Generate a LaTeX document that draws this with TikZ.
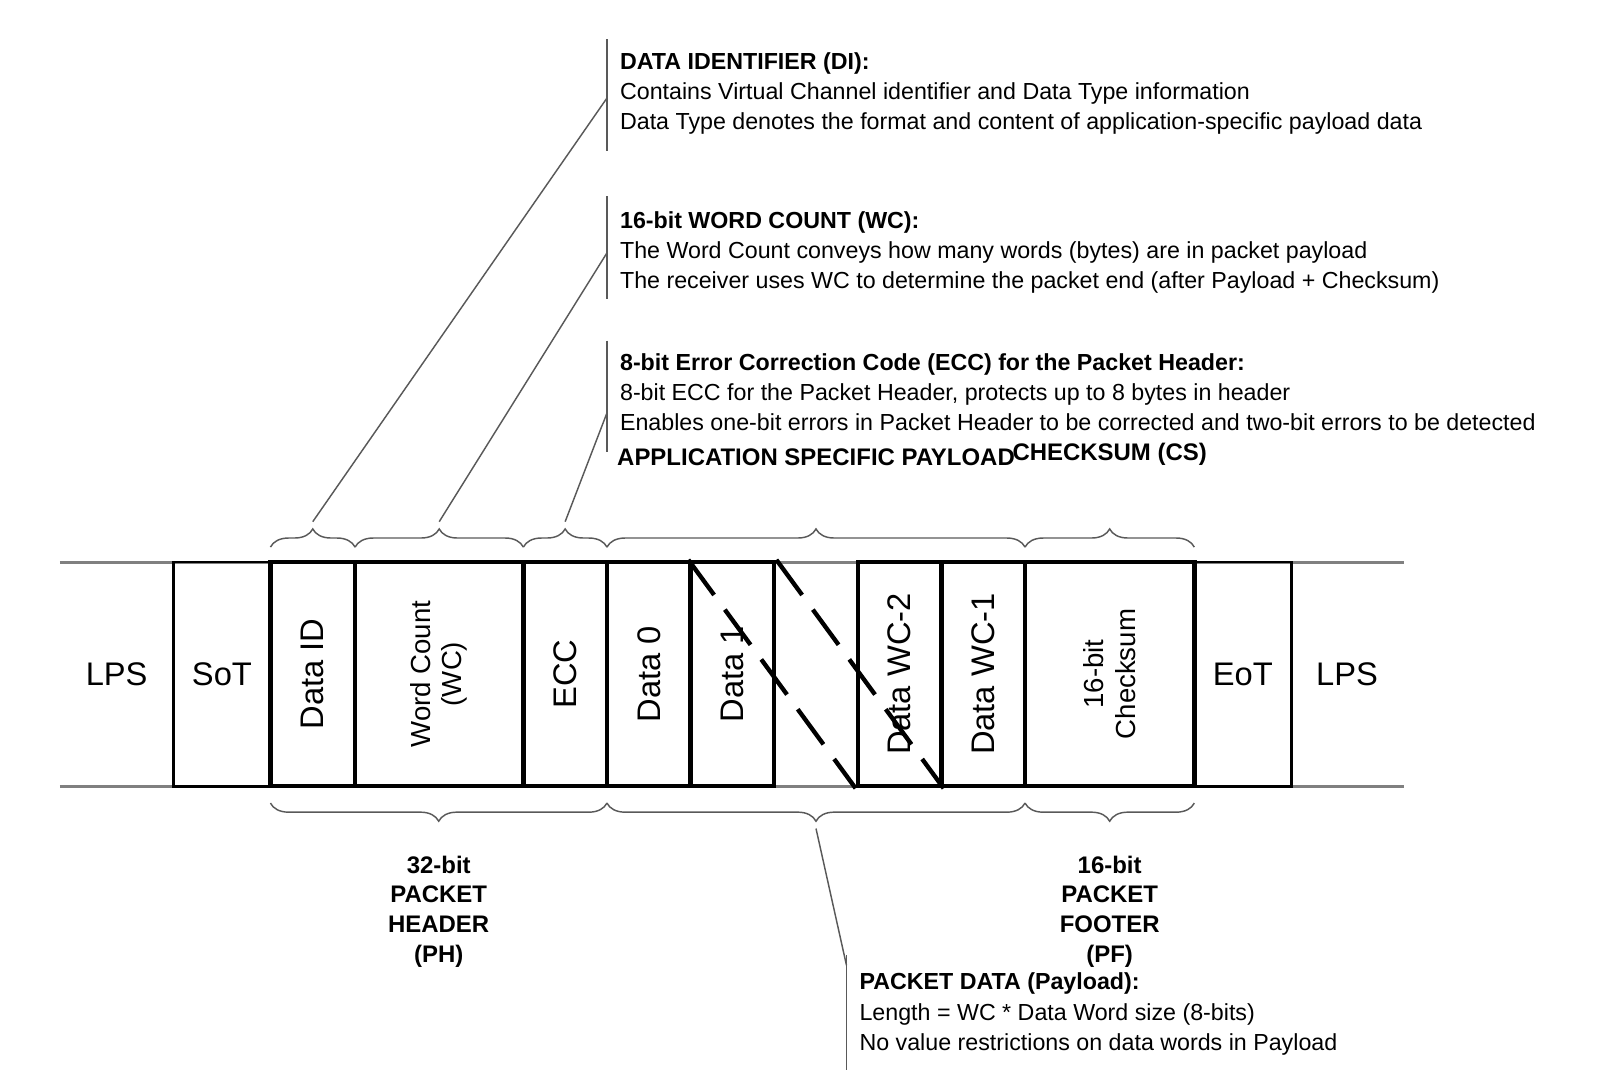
\documentclass[tikz,border=0pt]{standalone}
\usepackage{fontspec}
\setmainfont{Liberation Sans}
\usetikzlibrary{decorations.pathreplacing}
\begin{document}
\begin{tikzpicture}[x=0.01cm,y=-0.01cm]
        \tikzstyle{cell}=[draw, line width=1.2pt, minimum height=2.17cm,
            inner sep=0pt, font=\fontsize{9}{10}\selectfont]
        \tikzstyle{vcell}=[cell, rotate=90, minimum width=2.17cm, minimum height=0pt]
        \tikzstyle{brc}=[decorate, decoration={brace, amplitude=5pt}, gray!70!black, line width=0.4pt]
        \tikzstyle{note}=[anchor=north west, align=left, inner sep=0pt,
            font=\fontsize{6.4}{8.3}\selectfont]
        \tikzstyle{lead}=[gray!70!black, line width=0.4pt]
        \clip (0,0) rectangle (1550,1049);
        \useasboundingbox (0,0) rectangle (1550,1049);

        \draw[gray, line width=1pt] (58,545) -- (1360,545);
        \draw[gray, line width=1pt] (58,762) -- (1360,762);

        \node[font=\fontsize{9}{10}\selectfont] (lps1) at (113,653) {LPS};
        \node[cell, line width=0.8pt, minimum width=0.94cm] (sot) at (215,653) {SoT};
        \node[vcell, minimum height=0.82cm] (di) at (303,653) {Data ID};
        \node[vcell, minimum height=1.63cm, align=center, font=\fontsize{7.6}{8.6}\selectfont] (wc) at (425.5,653) {Word Count\\(WC)};
        \node[vcell, minimum height=0.81cm] (ecc) at (547.5,653) {ECC};
        \node[vcell, minimum height=0.81cm] (d0) at (628.5,653) {Data 0};
        \node[vcell, minimum height=0.81cm] (d1) at (709.5,653) {Data 1};
        \node[vcell, minimum height=0.81cm] (d2) at (871.5,653) {Data WC-2};
        \node[vcell, minimum height=0.81cm] (d3) at (952.5,653) {Data WC-1};
        \node[vcell, minimum height=1.64cm, align=center, font=\fontsize{7.6}{8.6}\selectfont] (cs) at (1075,653) {16-bit\\Checksum};
        \node[cell, line width=0.8pt, minimum width=0.94cm] (eot) at (1204,653) {EoT};
        \node[font=\fontsize{9}{10}\selectfont] (lps2) at (1305,653) {LPS};
        \draw[line width=1.2pt, dashed, dash pattern=on 12pt off 5pt] (d1.south east) -- (d2.south west);
        \draw[line width=1.2pt, dash pattern=on 12pt off 5pt] (d1.north east) -- (d2.north west);

        % top braces
        \draw[brc] (262,530) -- (344,530) coordinate[midway, yshift=7pt] (tdi);
        \draw[brc] (344,530) -- (507,530) coordinate[midway, yshift=7pt] (twc);
        \draw[brc] (507,530) -- (588,530) coordinate[midway, yshift=7pt] (tecc);
        \draw[brc] (588,530) -- (993,530) coordinate[midway, yshift=7pt] (tpl);
        \draw[brc] (993,530) -- (1157,530) coordinate[midway, yshift=7pt] (tcs);
        \node[font=\bfseries\fontsize{6.6}{8}\selectfont, anchor=south] at ([yshift=12pt]tpl) {APPLICATION SPECIFIC PAYLOAD};
        \node[font=\bfseries\fontsize{6.6}{8}\selectfont, anchor=south] at ([yshift=12pt]tcs) {CHECKSUM (CS)};

        % bottom braces
        \draw[brc] (588,778) -- (262,778) coordinate[midway, yshift=-7pt] (bph);
        \draw[brc] (993,778) -- (588,778) coordinate[midway, yshift=-7pt] (bpl);
        \draw[brc] (1157,778) -- (993,778) coordinate[midway, yshift=-7pt] (bpf);
        \node[font=\bfseries\fontsize{6.6}{8.2}\selectfont, align=center, anchor=north] at ([yshift=-4pt]bph) {32-bit\\PACKET\\HEADER\\(PH)};
        \node[font=\bfseries\fontsize{6.6}{8.2}\selectfont, align=center, anchor=north] at ([yshift=-4pt]bpf) {16-bit\\PACKET\\FOOTER\\(PF)};

        % notes
        \node[note] (ndi) at (600,50) {\textbf{DATA IDENTIFIER (DI):}\\Contains Virtual Channel identifier and Data Type information\\Data Type denotes the format and content of application-specific payload data};
        \node[note] (nwc) at (600,204) {\textbf{16-bit WORD COUNT (WC):}\\The Word Count conveys how many words (bytes) are in packet payload\\The receiver uses WC to determine the packet end (after Payload + Checksum)};
        \node[note] (necc) at (600,342) {\textbf{8-bit Error Correction Code (ECC) for the Packet Header:}\\8-bit ECC for the Packet Header, protects up to 8 bytes in header\\Enables one-bit errors in Packet Header to be corrected and two-bit errors to be detected};
        \node[note] (npl) at (832,942) {\textbf{PACKET DATA (Payload):}\\Length = WC * Data Word size (8-bits)\\No value restrictions on data words in Payload};

        \coordinate (cdi) at (588,95);
        \coordinate (cwc) at (588,245);
        \coordinate (cecc) at (588,400);
        \coordinate (cpl) at (820,935);
        \draw[lead] (588,38) -- (588,146);
        \draw[lead] (588,190) -- (588,290);
        \draw[lead] (588,330) -- (588,438);
        \draw[lead] (820,925) -- (820,1037);
        \draw[lead] (tdi) -- (cdi);
        \draw[lead] (twc) -- (cwc);
        \draw[lead] (tecc) -- (cecc);
        \draw[lead] (bpl) -- (cpl);
\end{tikzpicture}
\end{document}
